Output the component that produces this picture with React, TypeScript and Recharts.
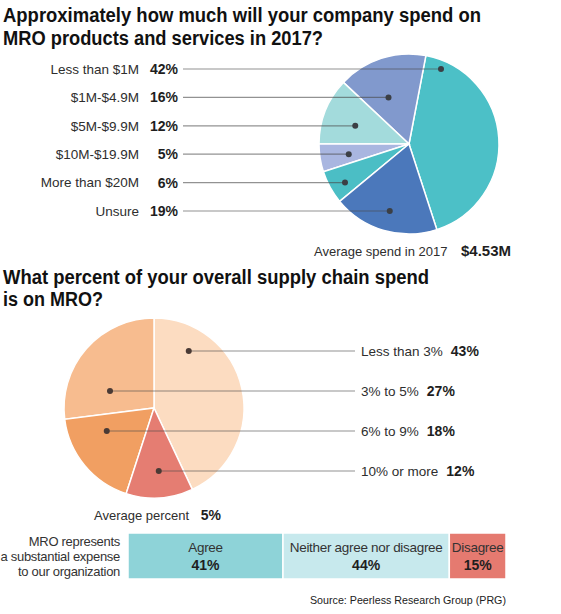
import { PieChart, Pie, Cell, BarChart, Bar, XAxis, YAxis, LabelList } from 'recharts';

// MRO spend in 2017 (share of respondents, %)
const spendCategories = ['Less than $1M', '$1M-$4.9M', '$5M-$9.9M', '$10M-$19.9M', 'More than $20M', 'Unsure'];
const spendShares = [42, 16, 12, 5, 6, 19];
const spendColors = ['#4cc0c7', '#8199cd', '#a3dbdc', '#a9b6e0', '#4bbec5', '#4b78bb'];
const averageSpend = '$4.53M';

// MRO as percent of overall supply chain spend
const supplyCategories = ['Less than 3%', '3% to 5%', '6% to 9%', '10% or more'];
const supplyShares = [43, 27, 18, 12];
const supplyColors = ['#fcdcc1', '#f7bc8f', '#f19f62', '#e57d72'];
const averagePercent = '5%';

// "MRO represents a substantial expense to our organization"
const opinionCategories = ['Agree', 'Neither agree nor disagree', 'Disagree'];
const opinionShares = [41, 44, 15];
const opinionColors = ['#8ed3d8', '#c7e9ed', '#e57a70'];

const FONT = "'Liberation Sans', Arial, Helvetica, sans-serif";

const spendData = spendCategories.map((name, i) => ({ name, value: spendShares[i] }));
const supplyData = supplyCategories.map((name, i) => ({ name, value: supplyShares[i] }));
const opinionData = [
  opinionCategories.reduce((row: any, _c, i) => ({ ...row, [`v${i}`]: opinionShares[i] }), { name: 'MRO' }),
];

// x of a point inside the slice on the horizontal line y (middle of the covered span)
function dotX(cx: number, cy: number, r: number, a0: number, a1: number, y: number) {
  const dy = y - cy;
  const lo = Math.min(a0, a1);
  const hi = Math.max(a0, a1);
  let min = Infinity;
  let max = -Infinity;
  for (let dx = -r; dx <= r; dx += 0.5) {
    if (dx * dx + dy * dy > r * r) continue;
    let a = (Math.atan2(-dy, dx) * 180) / Math.PI;
    while (a < lo) a += 360;
    while (a >= lo + 360) a -= 360;
    if (a <= hi) {
      min = Math.min(min, dx);
      max = Math.max(max, dx);
    }
  }
  return cx + (min + max) / 2;
}

const lineStyle = { stroke: '#4a4a4a', strokeOpacity: 0.6, strokeWidth: 1.2 };

const renderSpendLabel = (props: any) => {
  const { cx, cy, outerRadius, startAngle, endAngle, index } = props;
  const y = 69 + index * 28.4;
  const x = dotX(cx, cy, outerRadius, startAngle, endAngle, y);
  return (
    <g key={`spend-${index}`}>
      <line x1={183} y1={y} x2={x} y2={y} {...lineStyle} />
      <circle cx={x} cy={y} r={3} fill="#3b3f45" />
      <text x={139} y={y} dy="0.36em" textAnchor="end" fontFamily={FONT} fontSize={13.5} fill="#2e2e2e">
        {spendCategories[index]}
      </text>
      <text x={178} y={y} dy="0.36em" textAnchor="end" fontFamily={FONT} fontSize={14} fontWeight={700} fill="#1e1e1e">
        {spendShares[index]}%
      </text>
    </g>
  );
};

const renderSupplyLabel = (props: any) => {
  const { cx, cy, outerRadius, startAngle, endAngle, index } = props;
  const y = 89 + index * 40;
  const x = dotX(cx, cy, outerRadius, startAngle, endAngle, y);
  return (
    <g key={`supply-${index}`}>
      <line x1={x} y1={y} x2={355} y2={y} {...lineStyle} />
      <circle cx={x} cy={y} r={3} fill="#4a3a35" />
      <text x={361} y={y} dy="0.36em" fontFamily={FONT} fontSize={13.5} fill="#2e2e2e">
        {supplyCategories[index]}
        <tspan dx={8} fontSize={14} fontWeight={700} fill="#1e1e1e">
          {supplyShares[index]}%
        </tspan>
      </text>
    </g>
  );
};

const renderOpinionLabel = (i: number) => (props: any) => {
  const { x, y, width } = props;
  const mid = x + width / 2;
  return (
    <g key={`op-${i}`}>
      <text x={mid} y={y + 14} dy="0.36em" textAnchor="middle" fontFamily={FONT} fontSize={13.5} letterSpacing={-0.3} fill="#333">
        {opinionCategories[i]}
      </text>
      <text x={mid} y={y + 32} dy="0.36em" textAnchor="middle" fontFamily={FONT} fontSize={14} fontWeight={700} fill="#1e1e1e">
        {opinionShares[i]}%
      </text>
    </g>
  );
};

const titleProps = {
  fontFamily: FONT,
  fontSize: 20,
  fontWeight: 700,
  fill: '#111',
  lengthAdjust: 'spacingAndGlyphs' as const,
};

const App: React.FC = () => {
  return (
    <div style={{ position: 'absolute', left: 0, top: 0, width: 561, height: 614, background: '#fff' }}>
      <svg width={561} height={614} style={{ position: 'absolute', left: 0, top: 0 }}>
        <text x={3} y={22} textLength={478} {...titleProps}>
          Approximately how much will your company spend on
        </text>
        <text x={3} y={45} textLength={320} {...titleProps}>
          MRO products and services in 2017?
        </text>
        <text x={314} y={256} fontFamily={FONT} fontSize={13} fill="#2e2e2e">
          Average spend in 2017
        </text>
        <text x={511} y={256} textAnchor="end" fontFamily={FONT} fontSize={15} fontWeight={700} fill="#1e1e1e">
          {averageSpend}
        </text>

        <text x={3} y={284} textLength={426} {...titleProps}>
          What percent of your overall supply chain spend
        </text>
        <text x={3} y={306} textLength={100} {...titleProps}>
          is on MRO?
        </text>
        <text x={94} y={520} fontFamily={FONT} fontSize={13} fill="#2e2e2e">
          Average percent
        </text>
        <text x={221} y={520} textAnchor="end" fontFamily={FONT} fontSize={14} fontWeight={700} fill="#1e1e1e">
          {averagePercent}
        </text>

        <g fontFamily={FONT} fontSize={13} letterSpacing={-0.3} fill="#333" textAnchor="end">
          <text x={120} y={546}>MRO represents</text>
          <text x={120} y={561}>a substantial expense</text>
          <text x={120} y={576}>to our organization</text>
        </g>
        <text x={506} y={604} textAnchor="end" fontFamily={FONT} fontSize={10.7} fill="#222">
          Source: Peerless Research Group (PRG)
        </text>
      </svg>

      <div style={{ position: 'absolute', left: 0, top: 0 }}>
        <PieChart width={561} height={262} margin={{ top: 0, right: 0, bottom: 0, left: 0 }}>
          <Pie
            data={spendData}
            dataKey="value"
            nameKey="name"
            cx={409}
            cy={144}
            outerRadius={90}
            startAngle={-72}
            endAngle={288}
            stroke="#fff"
            strokeWidth={1.5}
            labelLine={false}
            label={renderSpendLabel}
            isAnimationActive={false}
          >
            {spendData.map((_, i) => (
              <Cell key={`spend-cell-${i}`} fill={spendColors[i]} />
            ))}
          </Pie>
        </PieChart>
      </div>

      <div style={{ position: 'absolute', left: 0, top: 262 }}>
        <PieChart width={561} height={240} margin={{ top: 0, right: 0, bottom: 0, left: 0 }}>
          <Pie
            data={supplyData}
            dataKey="value"
            nameKey="name"
            cx={154}
            cy={146}
            outerRadius={90}
            startAngle={-64.8}
            endAngle={295.2}
            stroke="#fff"
            strokeWidth={1.5}
            labelLine={false}
            label={renderSupplyLabel}
            isAnimationActive={false}
          >
            {supplyData.map((_, i) => (
              <Cell key={`supply-cell-${i}`} fill={supplyColors[i]} />
            ))}
          </Pie>
        </PieChart>
      </div>

      <div style={{ position: 'absolute', left: 128, top: 533 }}>
        <BarChart
          layout="vertical"
          width={378}
          height={46}
          data={opinionData}
          margin={{ top: 0, right: 0, bottom: 0, left: 0 }}
          barCategoryGap={0}
        >
          <XAxis type="number" domain={[0, 100]} hide />
          <YAxis type="category" dataKey="name" hide />
          {opinionCategories.map((c, i) => (
            <Bar
              key={c}
              dataKey={`v${i}`}
              stackId="opinion"
              fill={opinionColors[i]}
              stroke="#fff"
              strokeWidth={1.5}
              isAnimationActive={false}
            >
              <LabelList dataKey={`v${i}`} content={renderOpinionLabel(i)} />
            </Bar>
          ))}
        </BarChart>
      </div>
    </div>
  );
};

export default App;
